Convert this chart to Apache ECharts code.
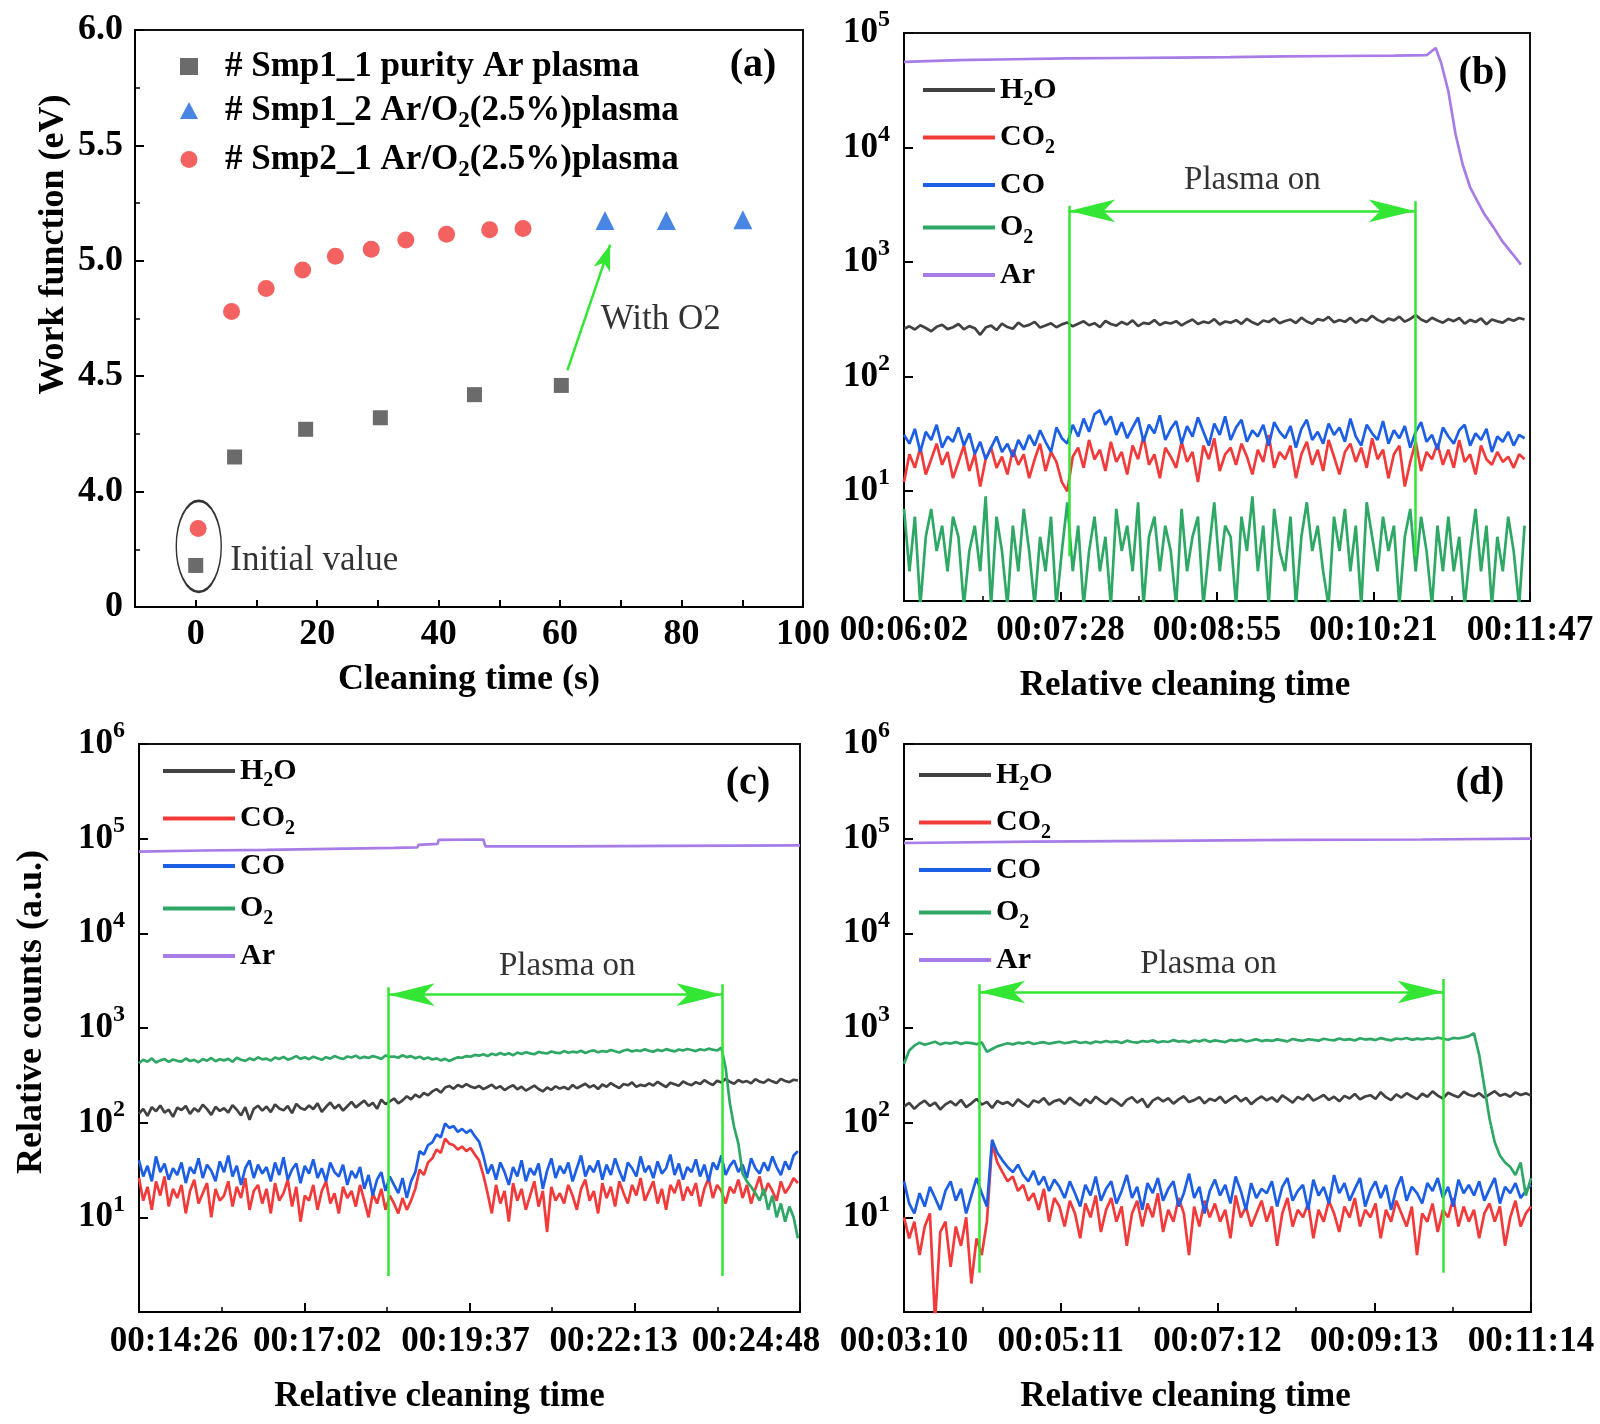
<!DOCTYPE html>
<html>
<head>
<meta charset="utf-8">
<script src="https://cdn.jsdelivr.net/npm/echarts@6/dist/echarts.min.js"></script>
<style>html,body{margin:0;background:#fff}#chart{width:1600px;height:1424px}</style>
</head>
<body>
<div id="chart"></div>
<script>
// ---- (a) work function ----
const smp11X = [0, 6.4, 18.1, 30.4, 45.9, 60.2];
const smp11Y = [3.68, 4.15, 4.27, 4.32, 4.42, 4.46];
const smp12X = [67.4, 77.5, 90.1];
const smp12Y = [5.175, 5.175, 5.178];
const smp21X = [0.4, 5.9, 11.6, 17.6, 23.0, 28.9, 34.6, 41.3, 48.4, 53.9];
const smp21Y = [3.84, 4.78, 4.88, 4.96, 5.02, 5.05, 5.09, 5.115, 5.135, 5.14];

// ---- (b) seconds after 00:06:02 ----
const tB = [0,3,6,9,12,15,18,21,24,27,
  30,33,36,39,42,45,48,51,54,57,
  60,63,66,69,72,75,78,81,84,87,
  90,93,96,99,102,105,108,111,114,117,
  120,123,126,129,132,135,138,141,144,147,
  150,153,156,159,162,165,168,171,174,177,
  180,183,186,189,192,195,198,201,204,207,
  210,213,216,219,222,225,228,231,234,237,
  240,243,246,249,252,255,258,261,264,267,
  270,273,276,279,282,285,288,291,294,297,
  300,303,306,309,312,315,318,321,324,327,
  330,333,336,339,342];
const h2oB = [262,275,258,281,266,249,272,284,260,270,
  288,259,276,265,232,268,279,255,290,271,
  262,296,274,283,301,268,279,292,270,286,
  297,275,289,304,281,293,270,306,288,279,
  300,285,310,276,295,289,312,282,298,291,
  305,280,299,315,288,302,294,318,285,303,
  296,311,289,320,298,284,309,300,322,292,
  306,315,294,327,303,290,318,309,332,298,
  312,301,326,295,318,307,340,313,298,321,
  310,334,302,319,345,315,300,327,309,296,
  318,305,325,290,313,300,322,287,316,304,
  296,320,308,325,315];
const co2B = [12,21,16,24,14,19,26,17,22,13,
  18,25,15,21,11,19,24,16,20,14,
  23,17,21,13,19,26,15,22,18,12,
  10,20,24,16,28,19,23,15,27,18,
  22,14,25,19,30,17,21,13,24,20,
  16,27,18,22,12,25,19,29,15,21,
  24,17,26,20,14,23,18,31,16,22,
  19,25,13,21,27,17,23,15,28,20,
  14,22,26,18,24,16,29,19,23,13,
  21,25,11,18,27,15,22,19,26,17,
  23,16,28,18,21,14,25,19,17,22,
  18,20,16,21,19];
const coB = [31,26,35,22,33,28,38,24,30,27,
  36,25,32,21,27,19,24,30,22,26,
  20,28,23,31,25,34,27,22,36,29,
  26,38,30,43,33,47,51,38,45,31,
  40,29,36,44,27,38,32,46,28,35,
  41,26,37,30,44,33,25,39,31,45,
  28,36,42,27,34,30,38,25,40,33,
  29,37,24,35,42,28,33,26,39,31,
  36,27,43,30,25,38,32,28,41,26,
  34,29,37,24,33,40,27,31,23,36,
  30,26,34,38,25,32,28,35,22,30,
  27,33,25,31,29];
const o2B = [7,2,6,1,4,7,3,5,2,6,
  4,1,3,5,2,9,1,6,3,1,
  5,2,7,3,1,4,2,6,1,3,
  8,2,5,1,3,6,2,4,1,7,
  3,5,2,8,1,4,6,2,5,3,
  1,7,2,4,6,1,3,8,2,5,
  4,1,6,3,9,2,5,1,7,3,
  2,6,1,4,8,3,5,2,1,6,
  3,7,2,5,1,8,4,2,6,3,
  5,1,4,7,2,6,3,1,5,2,
  6,2,4,1,3,7,2,5,1,4,
  2,6,3,1,5];
const arTB = [0,30,60,90,120,150,180,210,240,270,288,293,296,300,304,308,312,316,320,325,330,335,340];
const arB = [5.6e4,5.8e4,5.9e4,6.0e4,6.05e4,6.1e4,6.15e4,6.25e4,6.3e4,6.35e4,6.4e4,7.4e4,5.5e4,3.1e4,1.3e4,7.0e3,4.5e3,3.4e3,2.6e3,2.0e3,1.5e3,1.2e3,9.5e2];

// ---- (c) seconds after 00:14:26 ----
const tC = [0,4,8,12,16,20,24,28,32,36,
  40,44,48,52,56,60,64,68,72,76,
  80,84,88,92,96,100,104,108,112,116,
  120,124,128,132,136,140,144,148,152,156,
  160,164,168,172,176,180,184,188,192,196,
  200,204,208,212,216,220,224,228,232,236,
  240,244,248,252,256,260,264,268,272,276,
  280,284,288,292,296,300,304,308,312,316,
  320,324,328,332,336,340,344,348,352,356,
  360,364,368,372,376,380,384,388,392,396,
  400,404,408,412,416,420,424,428,432,436,
  440,444,448,452,456,460,464,468,472,476,
  480,484,488,492,496,500,504,508,512,516,
  520,524,528,532,536,540,544,548,552,556,
  560,564,568,572,576,580,584,588,592,596,
  600,604,608,612,616,620];
const h2oC = [125,140,118,146,132,152,128,137,115,144,
  136,150,124,142,131,155,139,121,147,133,
  142,128,153,137,119,146,107,140,151,134,
  148,129,156,141,135,150,126,158,143,137,
  152,139,160,130,147,163,141,155,134,149,
  166,145,158,171,150,162,140,175,157,168,
  180,160,172,190,176,198,185,206,195,214,
  226,208,235,244,228,250,238,255,241,232,
  245,226,238,252,230,243,221,236,248,225,
  240,218,232,246,227,214,235,222,242,229,
  238,225,250,231,244,258,236,249,227,253,
  240,262,245,232,256,248,266,239,251,244,
  260,247,270,253,238,264,255,246,272,258,
  249,268,256,281,263,250,277,266,290,270,
  258,282,267,275,260,288,271,264,285,273,
  262,290,276,268,284,279];
const co2C = [26,15,21,12,24,17,27,13,20,16,
  22,11,19,25,14,18,23,10,20,15,
  17,24,13,21,16,26,12,19,22,14,
  20,11,23,15,18,25,13,21,9,17,
  15,22,12,19,24,14,18,11,21,16,
  19,13,22,15,10,18,14,20,12,17,
  14,11,16,12,15,20,32,28,38,42,
  52,48,68,60,58,52,56,50,54,46,
  40,28,18,11,22,14,19,9,23,15,
  20,12,17,24,13,19,7,21,15,18,
  14,22,17,12,20,25,15,19,11,23,
  16,21,13,24,18,14,22,17,26,15,
  19,24,14,20,12,22,18,25,15,21,
  17,23,13,20,26,16,22,19,14,21,
  18,25,16,22,14,20,27,17,23,19,
  15,24,18,21,26,23];
const coC = [40,27,35,24,44,30,37,25,33,28,
  38,23,34,29,42,26,36,31,24,39,
  30,45,27,35,22,33,40,26,36,29,
  34,24,38,28,43,25,32,37,23,35,
  29,41,26,33,24,38,30,27,36,22,
  31,26,34,20,28,17,25,30,19,27,
  22,18,26,16,24,30,50,46,58,62,
  75,70,98,88,92,80,86,78,84,72,
  63,45,29,36,25,38,30,22,34,27,
  40,24,33,28,37,20,31,42,26,35,
  29,38,24,33,45,27,35,30,40,25,
  36,28,42,31,24,38,33,27,44,30,
  35,26,39,29,33,46,28,37,25,34,
  30,41,27,36,24,38,32,45,28,35,
  40,30,36,26,42,33,29,38,31,44,
  34,28,39,32,45,50];
const o2C = [425,462,440,478,432,455,470,438,465,450,
  442,476,448,460,435,470,452,482,446,468,
  455,472,440,485,462,450,478,458,490,466,
  475,452,488,470,495,462,480,505,472,490,
  468,498,480,462,492,475,505,484,470,500,
  488,510,478,496,482,505,490,472,512,495,
  500,485,515,492,505,480,498,470,488,465,
  478,455,472,448,470,490,485,505,498,520,
  510,528,505,535,518,545,522,540,515,550,
  532,555,540,528,560,545,538,565,550,542,
  570,548,562,552,575,544,568,580,555,572,
  560,585,568,552,578,590,565,582,570,595,
  575,560,588,572,598,580,566,592,578,600,
  585,570,596,582,605,590,578,620,380,160,
  90,60,29,24,21,18,15,20,12,17,
  10,14,9,13,10,6];
const arTC = [0,60,120,180,240,262,263,281,282,324,326,400,500,622];
const arC = [7.3e4,7.5e4,7.6e4,7.8e4,8.0e4,8.1e4,8.6e4,8.8e4,9.7e4,9.8e4,8.3e4,8.3e4,8.4e4,8.5e4];

// ---- (d) seconds after 00:03:10 ----
const tD = [0,4,8,12,16,20,24,28,32,36,
  40,44,48,52,56,60,64,68,72,76,
  80,84,88,92,96,100,104,108,112,116,
  120,124,128,132,136,140,144,148,152,156,
  160,164,168,172,176,180,184,188,192,196,
  200,204,208,212,216,220,224,228,232,236,
  240,244,248,252,256,260,264,268,272,276,
  280,284,288,292,296,300,304,308,312,316,
  320,324,328,332,336,340,344,348,352,356,
  360,364,368,372,376,380,384,388,392,396,
  400,404,408,412,416,420,424,428,432,436,
  440,444,448,452,456,460,464,468,472,476,
  480,484];
const h2oD = [148,162,140,158,171,150,163,138,156,168,
  152,174,146,160,178,155,166,143,170,158,
  165,150,176,160,147,172,163,182,155,169,
  175,158,184,166,152,177,161,188,170,157,
  180,166,150,174,186,163,178,145,171,184,
  168,181,159,176,190,165,173,186,160,179,
  170,188,162,177,192,168,183,157,175,189,
  172,185,166,194,178,163,187,175,198,171,
  183,196,174,188,168,192,180,201,176,189,
  195,178,210,186,173,199,184,205,190,177,
  202,188,214,193,180,207,195,186,212,197,
  190,205,184,199,215,192,201,188,209,196,
  204,193];
const co2D = [10,6,9,4,8,11,0.8,7,9,3,
  8,5,10,2,6,4,9,60,38,30,
  24,27,19,22,15,18,12,20,9,16,
  13,8,15,11,6,14,10,17,7,12,
  16,9,13,5,11,15,8,14,10,18,
  7,12,9,16,11,4,13,8,15,10,
  14,9,12,6,17,10,13,8,11,15,
  9,13,5,11,16,8,12,10,14,6,
  12,9,15,11,7,13,10,16,8,12,
  10,14,6,12,9,15,11,8,13,4,
  11,9,14,7,12,10,16,8,13,9,
  12,6,11,14,9,13,5,10,15,8,
  11,13];
const coD = [24,14,11,18,13,21,16,12,19,24,
  15,20,11,17,26,18,13,66,48,40,
  34,30,36,28,24,31,22,27,19,25,
  21,16,24,18,13,22,17,27,15,20,
  24,14,19,28,16,21,12,23,18,26,
  15,20,24,13,18,29,16,21,11,19,
  25,17,22,14,27,19,12,23,16,20,
  18,24,13,21,26,15,19,22,12,25,
  17,21,14,28,18,23,15,20,26,13,
  19,24,16,22,12,20,27,15,21,18,
  14,23,19,26,16,21,13,25,18,22,
  17,24,15,20,26,14,21,18,23,16,
  19,22];
const o2D = [420,580,650,700,665,690,715,672,698,685,
  710,680,702,692,675,705,560,600,640,665,
  690,672,700,685,712,678,695,708,682,700,
  715,690,705,725,695,712,688,720,702,730,
  708,722,695,735,712,700,728,716,740,705,
  725,712,745,718,730,705,738,722,750,715,
  740,725,710,748,732,755,720,738,762,728,
  745,730,758,740,722,765,745,732,760,748,
  735,770,752,740,775,748,762,738,780,755,
  768,745,782,758,740,775,760,785,750,772,
  758,780,765,790,770,752,785,775,795,820,
  880,520,240,110,62,45,38,34,28,38,
  17,26];
const arTD = [0,100,200,300,400,484];
const arD = [9.0e4,9.3e4,9.5e4,9.7e4,9.8e4,1.0e5];

const GASES = ['H2O', 'CO2', 'CO', 'O2', 'Ar'];

// ---- styles ----
const FONT = '"Liberation Serif", "Times New Roman", serif';
const COLORS = {H2O: '#424242', CO2: '#f23a3a', CO: '#1d5fe4', O2: '#2fa866', Ar: '#a77ce6'};
const GREEN = '#33e633';
const labelShiftC = [35, 13, -4, -21, -44];

const pairs = (xs, ys) => xs.map((x, i) => [x, ys[i]]);
const hms = (sec) => {
  const s = Math.round(sec);
  return [Math.floor(s / 3600), Math.floor(s % 3600 / 60), s % 60].map(v => String(v).padStart(2, '0')).join(':');
};
const powLabel = (v) => {
  const e = Math.log10(v), n = Math.round(e);
  if (Math.abs(e - n) > 1e-6 || n < 1) return '';
  return '{b|10}{s|' + n + '}';
};

const axisLine = {show: true, onZero: false, lineStyle: {color: '#000', width: 2}};
const axisTick = {show: true, inside: true, length: 9, lineStyle: {color: '#000', width: 2}};
const minorTick = {show: true, splitNumber: 2, length: 5, lineStyle: {color: '#000', width: 1.5}};
const nameStyle = (size, padding) => ({fontSize: size, fontWeight: 'bold', fontFamily: FONT, color: '#000', padding});

function timeAxis(gi, start, span, shifts) {
  const step = span / 4;
  const base = {fontSize: 35, fontWeight: 'bold', fontFamily: FONT, color: '#000'};
  const rich = {};
  for (let k = 0; k <= 4; k++) {
    const d = shifts ? shifts[k] : 0;
    rich['p' + k] = Object.assign({padding: d >= 0 ? [0, 0, 0, 2 * d] : [0, -2 * d, 0, 0]}, base);
  }
  return {
    type: 'value', gridIndex: gi, min: 0, max: span, interval: step,
    axisLine, axisTick, minorTick, splitLine: {show: false},
    axisLabel: Object.assign({margin: 12, rich, formatter: v => '{p' + Math.round(v / step) + '|' + hms(start + v) + '}'}, base),
    name: 'Relative cleaning time', nameLocation: 'middle', nameGap: 67,
    nameTextStyle: nameStyle(35, shifts ? [0, 60, 0, 0] : [0, 64, 0, 0])
  };
}

function logAxis(gi, min, max, extra) {
  const base = {fontWeight: 'bold', fontFamily: FONT, color: '#000'};
  return Object.assign({
    type: 'log', logBase: 10, gridIndex: gi, min, max, splitNumber: 6,
    axisLine, axisTick, splitLine: {show: false},
    axisLabel: {margin: 14, formatter: powLabel, rich: {
      b: Object.assign({fontSize: 35, lineHeight: 44}, base),
      s: Object.assign({fontSize: 24, lineHeight: 14, height: 18, verticalAlign: 'top'}, base)
    }}
  }, extra || {});
}

const legendRichGas = {
  b: {fontSize: 30, fontWeight: 'bold', fontFamily: FONT, color: '#000', lineHeight: 34},
  s: {fontSize: 20, fontWeight: 'bold', fontFamily: FONT, color: '#000', lineHeight: 14, height: 14, verticalAlign: 'bottom'}
};
const gasRich = {H2O: '{b|H}{s|2}{b|O}', CO2: '{b|CO}{s|2}', CO: '{b|CO}', O2: '{b|O}{s|2}', Ar: '{b|Ar}'};
const gasLegend = (left, top) => ({
  orient: 'vertical', left, top, padding: 0, itemGap: 12.5, itemWidth: 72, itemHeight: 4, icon: 'rect',
  selectedMode: false, data: GASES, formatter: n => gasRich[n],
  textStyle: {fontFamily: FONT, fontWeight: 'bold', fontSize: 30, color: '#000', rich: legendRichGas}
});

const noteLabel = (size, bold) => ({fontSize: size, fontWeight: bold ? 'bold' : 'normal', fontFamily: FONT, color: '#000'});

// gas panels: grid index 1..3
const gasPanels = [
  {gi: 1, t: tB, vals: {H2O: h2oB, CO2: co2B, CO: coB, O2: o2B}, arT: arTB, ar: arB,
    plasma: {x1: 91, x2: 281.5, low: 2.7, topL: 3.1e3, topR: 3.4e3, arrow: 2.8e3, textX: 192, textY: 5.2e3}},
  {gi: 2, t: tC, vals: {H2O: h2oC, CO2: co2C, CO: coC, O2: o2C}, arT: arTC, ar: arC,
    plasma: {x1: 235, x2: 549, low: 2.4, topL: 2.7e3, topR: 2.9e3, arrow: 2.25e3, textX: 403, textY: 4.5e3}},
  {gi: 3, t: tD, vals: {H2O: h2oD, CO2: co2D, CO: coD, O2: o2D}, arT: arTD, ar: arD,
    plasma: {x1: 58, x2: 416.5, low: 2.6, topL: 2.9e3, topR: 3.3e3, arrow: 2.4e3, textX: 235, textY: 4.7e3}}
];

const series = [
  {type: 'scatter', name: 'Smp1_1', xAxisIndex: 0, yAxisIndex: 0, data: pairs(smp11X, smp11Y), symbol: 'rect', symbolSize: 15, itemStyle: {color: '#464646'}},
  {type: 'scatter', name: 'Smp1_2', xAxisIndex: 0, yAxisIndex: 0, data: pairs(smp12X, smp12Y), symbol: 'triangle', symbolSize: 19, itemStyle: {color: '#1c66dc'}},
  {type: 'scatter', name: 'Smp2_1', xAxisIndex: 0, yAxisIndex: 0, data: pairs(smp21X, smp21Y), symbol: 'circle', symbolSize: 17, itemStyle: {color: '#f03a3a'}},
  {type: 'scatter', name: 'initial', xAxisIndex: 0, yAxisIndex: 0, silent: true, data: [[0.5, 3.763]], symbol: 'circle', symbolSize: [45, 91],
    itemStyle: {color: 'rgba(0,0,0,0)', borderColor: '#000', borderWidth: 2},
    markLine: {silent: true, symbol: ['none', 'arrow'], symbolSize: [13, 26], label: {show: false},
      lineStyle: {color: GREEN, width: 2.5, type: 'solid'},
      data: [[{coord: [61.2, 4.525]}, {coord: [68.25, 5.07]}]]}},
  {type: 'scatter', name: 'notesA', xAxisIndex: 0, yAxisIndex: 0, silent: true, symbolSize: 1, itemStyle: {color: 'rgba(0,0,0,0)'},
    label: Object.assign({show: true, position: 'right', distance: 0, formatter: p => p.data[2]}, noteLabel(35)),
    data: [[5.6, 3.70, 'Initial value'], [66.6, 4.746, 'With O2']]}
];

gasPanels.forEach(p => {
  GASES.forEach(g => {
    const data = g === 'Ar' ? pairs(p.arT, p.ar) : pairs(p.t, p.vals[g]);
    series.push({type: 'line', name: g, xAxisIndex: p.gi, yAxisIndex: p.gi, data, symbol: 'none', showSymbol: false,
      silent: true, lineStyle: {color: COLORS[g], width: 2.7}, itemStyle: {color: COLORS[g]}});
  });
  const q = p.plasma;
  series.push({type: 'line', name: 'plasma' + p.gi, xAxisIndex: p.gi, yAxisIndex: p.gi, data: [], silent: true,
    markLine: {silent: true, symbol: ['none', 'none'], label: {show: false}, lineStyle: {color: GREEN, width: 2.5, type: 'solid'},
      data: [
        [{coord: [q.x1, q.low]}, {coord: [q.x1, q.topL]}],
        [{coord: [q.x2, q.low]}, {coord: [q.x2, q.topR]}],
        [{coord: [q.x1, q.arrow], symbol: 'arrow', symbolSize: [17, 46]}, {coord: [q.x2, q.arrow], symbol: 'arrow', symbolSize: [17, 46]}]
      ]}});
  series.push({type: 'scatter', name: 'plasmaText' + p.gi, xAxisIndex: p.gi, yAxisIndex: p.gi, silent: true, symbolSize: 1,
    itemStyle: {color: 'rgba(0,0,0,0)'},
    label: Object.assign({show: true, position: 'inside', formatter: 'Plasma on'}, noteLabel(33)),
    data: [[q.textX, q.textY]]});
});

const gridBox = (left, top, width, height) => ({left, top, width, height, show: true, borderColor: '#111', borderWidth: 2, outerBoundsMode: 'none'});
const legendRichA = {
  b: {fontSize: 35, fontWeight: 'bold', fontFamily: FONT, color: '#000', lineHeight: 36},
  s: {fontSize: 23, fontWeight: 'bold', fontFamily: FONT, color: '#000', lineHeight: 14, height: 14, verticalAlign: 'bottom'}
};
const legendTextA = {
  Smp1_1: '{b|# Smp1_1 purity Ar plasma}',
  Smp1_2: '{b|# Smp1_2 Ar/O}{s|2}{b|(2.5%)plasma}',
  Smp2_1: '{b|# Smp2_1 Ar/O}{s|2}{b|(2.5%)plasma}'
};
const panelLabel = (x, y, text) => ({type: 'text', x, y, silent: true,
  style: {text, fontSize: 40, fontWeight: 'bold', fontFamily: FONT, fill: '#000', align: 'center', verticalAlign: 'middle'}});

const option = {
  animation: false,
  backgroundColor: '#fff',
  textStyle: {fontFamily: FONT},
  grid: [gridBox(135, 30, 668, 577), gridBox(904, 33, 626, 568), gridBox(139, 744, 661, 568), gridBox(904, 744, 627, 568)],
  xAxis: [
    {type: 'value', gridIndex: 0, min: -10, max: 100, interval: 10, axisLine, axisTick: Object.assign({}, axisTick, {length: 7}), splitLine: {show: false},
      axisLabel: {margin: 10, fontSize: 36, fontWeight: 'bold', fontFamily: FONT, color: '#000',
        formatter: v => (Math.abs(v % 20) < 1e-9 ? String(v) : '')},
      name: 'Cleaning time (s)', nameLocation: 'middle', nameGap: 55, nameTextStyle: nameStyle(36)},
    timeAxis(1, 362, 345),
    timeAxis(2, 866, 622, labelShiftC),
    timeAxis(3, 190, 484)
  ],
  yAxis: [
    {type: 'value', gridIndex: 0, min: 3.5, max: 6, interval: 0.5, axisLine, axisTick, minorTick, splitLine: {show: false},
      axisLabel: {margin: 12, fontSize: 36, fontWeight: 'bold', fontFamily: FONT, color: '#000',
        formatter: v => (v < 3.75 ? '0' : v.toFixed(1))},
      name: 'Work function (eV)', nameLocation: 'middle', nameGap: 63, nameTextStyle: nameStyle(36, [0, 0, 0, 148])},
    logAxis(1, 1.1, 1e5),
    logAxis(2, 1, 1e6, {name: 'Relative counts (a.u.)', nameLocation: 'middle', nameGap: 89, nameTextStyle: nameStyle(36, [0, 0, 0, 32])}),
    logAxis(3, 1, 1e6)
  ],
  legend: [
    {orient: 'vertical', left: 180, top: 49, padding: 0, itemGap: 9, itemWidth: 18, itemHeight: 17, selectedMode: false,
      data: ['Smp1_1', 'Smp1_2', 'Smp2_1'], formatter: n => legendTextA[n],
      textStyle: {fontFamily: FONT, fontWeight: 'bold', fontSize: 35, color: '#000', padding: [0, 0, 0, 22], rich: legendRichA}},
    gasLegend(923, 75),
    gasLegend(163, 756),
    gasLegend(919, 760)
  ],
  graphic: [panelLabel(753, 66, '(a)'), panelLabel(1483, 74, '(b)'), panelLabel(748, 784, '(c)'), panelLabel(1480, 784, '(d)')],
  series
};

const chart = echarts.init(document.getElementById('chart'));
chart.setOption(option);
</script>
</body>
</html>
